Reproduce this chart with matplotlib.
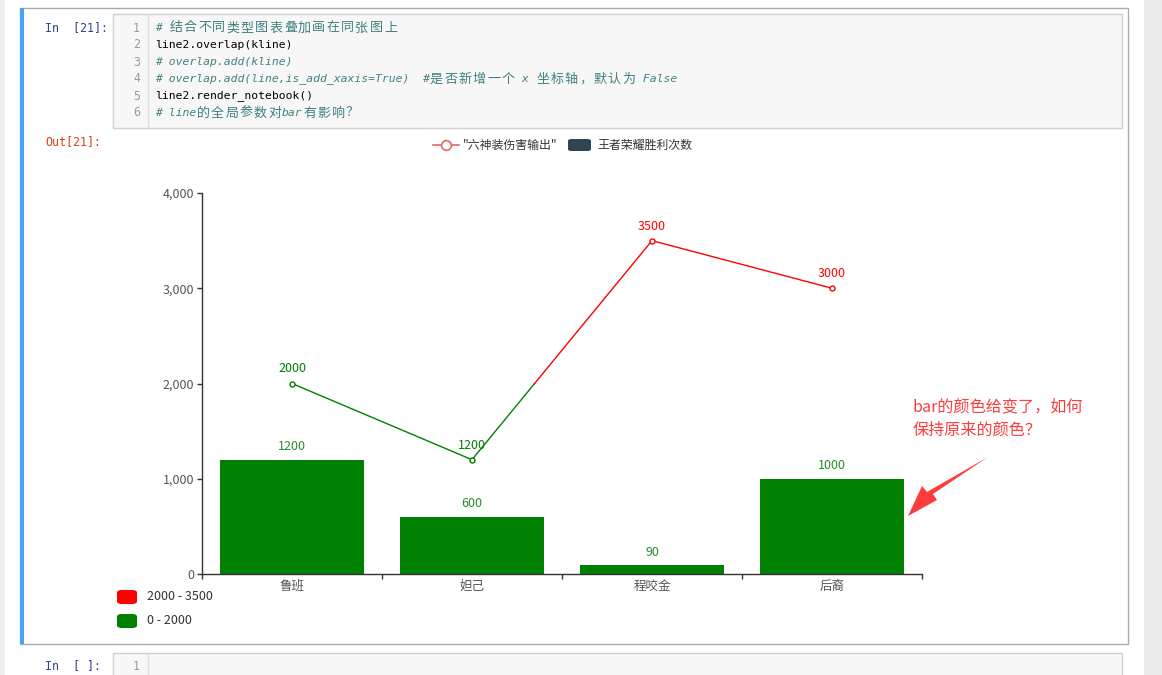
import matplotlib
matplotlib.use('Agg')
import matplotlib.pyplot as plt
from matplotlib.patches import Rectangle, FancyBboxPatch, Polygon
from matplotlib.lines import Line2D
from matplotlib.ticker import FuncFormatter, FixedLocator

plt.rcParams['font.family'] = ['Noto Sans CJK SC', 'DejaVu Sans']

# data
cats = ['鲁班', '妲己', '程咬金', '后裔']
bar_vals = [1200, 600, 90, 1000]
line_vals = [2000, 1200, 3500, 3000]
piece_lo = [0, 2000]
piece_hi = [2000, 3500]
piece_colors = ['green', 'red']
y_ticks = [0, 1000, 2000, 3000, 4000]

code_lines = [
    ('# 结合不同类型图表叠加画在同张图上', True),
    ('line2.overlap(kline)', False),
    ('# overlap.add(kline)', True),
    ('# overlap.add(line,is_add_xaxis=True)  #是否新增一个 x 坐标轴，默认为 False', True),
    ('line2.render_notebook()', False),
    ('# line的全局参数对bar有影响？', True),
]

W, H = 1162, 675
fig = plt.figure(figsize=(W / 100, H / 100), dpi=100)
fig.patch.set_facecolor('white')


def fx(x):
    return x / W


def fy(y):
    return 1 - y / H


def piece_color(v):
    for lo, hi, c in zip(piece_lo, piece_hi, piece_colors):
        if lo <= v <= hi:
            return c
    return piece_colors[-1]


mono = ['DejaVu Sans Mono', 'Noto Sans CJK SC']
MONO_PT = 8.2
MONO_ADV = 0.602 * MONO_PT * 100 / 72   # px per latin char
CJK_ADV = 14.3                          # px per wide char


def code_text(x0, y, s, color, italic):
    # latin runs in mono, wide chars placed on their own wider cells
    x = x0
    run = ''
    for ch in s + '\0':
        wide = ord(ch) > 0x2000
        if (wide or ch == '\0') and run:
            fig.text(fx(x), fy(y), run, family='DejaVu Sans Mono',
                     fontsize=MONO_PT, color=color, va='center',
                     style='italic' if italic else 'normal')
            x += len(run) * MONO_ADV
            run = ''
        if ch == '\0':
            break
        if wide:
            fig.text(fx(x + CJK_ADV / 2), fy(y), ch, family='Noto Sans CJK SC',
                     fontsize=9.4, color=color, va='center', ha='center')
            x += CJK_ADV
        else:
            run += ch


# notebook chrome (kept behind the chart axes)
fig.add_artist(Rectangle((0, 0), fx(5), 1, transform=fig.transFigure,
                         facecolor='#eeeeee', edgecolor='none', zorder=-5))
fig.add_artist(Rectangle((fx(1144), 0), fx(18), 1, transform=fig.transFigure,
                         facecolor='#ebebeb', edgecolor='none', zorder=-5))
fig.add_artist(Rectangle((fx(20), fy(644)), fx(1108), fy(8) - fy(644),
                         transform=fig.transFigure, facecolor='white',
                         edgecolor='#ababab', lw=1, zorder=-5))
fig.add_artist(Rectangle((fx(20), fy(644)), fx(4), fy(8) - fy(644),
                         transform=fig.transFigure, facecolor='#42a5f5',
                         edgecolor='none', zorder=-4))

# input box
fig.add_artist(Rectangle((fx(113), fy(128)), fx(1009), fy(14) - fy(128),
                         transform=fig.transFigure, facecolor='#f7f7f7',
                         edgecolor='#cfcfcf', lw=1, zorder=-4))
fig.add_artist(Line2D([fx(148), fx(148)], [fy(15), fy(127)],
                      transform=fig.transFigure, color='#dddddd', lw=1))
fig.text(fx(45), fy(28), 'In  [21]:', family=mono, fontsize=8.4,
         color='#303f9f', va='center')
for i, (txt, is_comment) in enumerate(code_lines):
    yy = 28 + i * 17
    fig.text(fx(140), fy(yy), str(i + 1), family=mono, fontsize=8.4,
             color='#999999', va='center', ha='right')
    code_text(155, yy, txt, '#408080' if is_comment else '#000000', is_comment)
fig.text(fx(45), fy(142), 'Out[21]:', family=mono, fontsize=8.4,
         color='#d84315', va='center')

# next empty cell
fig.text(fx(45), fy(666), 'In  [ ]:', family=mono, fontsize=8.4,
         color='#303f9f', va='center')
fig.add_artist(Rectangle((fx(113), fy(690)), fx(1009), fy(653) - fy(690),
                         transform=fig.transFigure, facecolor='#f7f7f7',
                         edgecolor='#cfcfcf', lw=1, zorder=-4))
fig.add_artist(Line2D([fx(148), fx(148)], [fy(654), fy(690)],
                      transform=fig.transFigure, color='#dddddd', lw=1))
fig.text(fx(140), fy(666), '1', family=mono, fontsize=8.4,
         color='#999999', va='center', ha='right')

# top legend
fig.add_artist(Line2D([fx(433), fx(459)], [fy(145), fy(145)],
                      transform=fig.transFigure, color='#dd6b66', lw=1.2))
fig.add_artist(Line2D([fx(446)], [fy(145)], transform=fig.transFigure,
                      marker='o', markersize=7, markerfacecolor='white',
                      markeredgecolor='#dd6b66', markeredgewidth=1.2))
fig.text(fx(463), fy(145), '"六神装伤害输出"', fontsize=8.6, color='#333333',
         va='center')
fig.add_artist(FancyBboxPatch((fx(568), fy(151)), fx(23), fy(139) - fy(151),
                              boxstyle='round,pad=0,rounding_size=0.003',
                              transform=fig.transFigure,
                              facecolor='#2f4554', edgecolor='none'))
fig.text(fx(597), fy(145), '王者荣耀胜利次数', fontsize=8.6, color='#333333',
         va='center')

# main chart
ax = fig.add_axes([fx(202), fy(574), fx(922) - fx(202), fy(193) - fy(574)])
ax.set_zorder(2)
ax.set_facecolor('none')
x = list(range(len(cats)))
ax.bar(x, bar_vals, width=0.8, color='#008000', zorder=2)
for xi, v in zip(x, bar_vals):
    ax.annotate(str(v), (xi, v), xytext=(0, 9.5), textcoords='offset points',
                ha='center', va='center', fontsize=9, color='#2a8c2a')

# line split by visual map pieces
for i in range(len(line_vals) - 1):
    x0, y0, x1, y1 = x[i], line_vals[i], x[i + 1], line_vals[i + 1]
    pts = [(x0, y0)]
    for b in piece_hi[:-1]:
        if (y0 - b) * (y1 - b) < 0:
            xc = x0 + (b - y0) / (y1 - y0) * (x1 - x0)
            pts.append((xc, b))
    pts.append((x1, y1))
    pts.sort()
    for (a, ya), (c, yc) in zip(pts[:-1], pts[1:]):
        ax.plot([a, c], [ya, yc], color=piece_color((ya + yc) / 2), lw=1.0,
                zorder=3)
for xi, v in zip(x, line_vals):
    c = piece_color(v)
    ax.plot(xi, v, marker='o', markersize=3.6, markerfacecolor='white',
            markeredgecolor=c, markeredgewidth=1.0, zorder=4)
    ax.annotate(str(v), (xi, v), xytext=(0, 10.5), textcoords='offset points',
                ha='center', va='center', fontsize=9, color=c)

ax.set_xlim(-0.5, len(cats) - 0.5)
ax.set_ylim(0, 4000)
for s in ['top', 'right']:
    ax.spines[s].set_visible(False)
for s in ['left', 'bottom']:
    ax.spines[s].set_color('#333333')
    ax.spines[s].set_linewidth(1)
ax.yaxis.set_major_locator(FixedLocator(y_ticks))
ax.yaxis.set_major_formatter(FuncFormatter(lambda v, p: f'{int(v):,}'))
ax.tick_params(axis='y', length=3.6, width=1, color='#333333',
               labelsize=9, labelcolor='#555555', pad=2)
ax.xaxis.set_major_locator(FixedLocator([i - 0.5 for i in range(len(cats) + 1)]))
ax.xaxis.set_minor_locator(FixedLocator(x))
ax.set_xticklabels([], minor=False)
ax.set_xticklabels(cats, minor=True)
ax.tick_params(axis='x', which='major', length=3.6, width=1, color='#333333')
ax.tick_params(axis='x', which='minor', length=0, labelsize=9,
               labelcolor='#555555', pad=4)

# visual map legend
for k, (lo, hi, c) in enumerate(reversed(list(zip(piece_lo, piece_hi, piece_colors)))):
    yc = 597 + k * 24
    fig.add_artist(FancyBboxPatch((fx(117), fy(yc + 7)), fx(20), fy(yc - 7) - fy(yc + 7),
                                  boxstyle='round,pad=0,rounding_size=0.004',
                                  transform=fig.transFigure,
                                  facecolor=c, edgecolor='none'))
    fig.text(fx(147), fy(yc), f'{lo} - {hi}', fontsize=9, color='#333333',
             va='center')

# red annotation
fig.text(fx(913), fy(407), 'bar的颜色给变了，如何', fontsize=11.6,
         color='#fd3d3d', va='center')
fig.text(fx(913), fy(430), '保持原来的颜色？', fontsize=11.6,
         color='#fd3d3d', va='center')
arrow = [(988, 457), (933, 494), (937, 500), (908, 516), (922, 486),
         (927, 492)]
fig.add_artist(Polygon([(fx(a), fy(b)) for a, b in arrow], closed=True,
                       transform=fig.transFigure, facecolor='#fd3d3d',
                       edgecolor='none'))

fig.savefig('out.png', dpi=100)
